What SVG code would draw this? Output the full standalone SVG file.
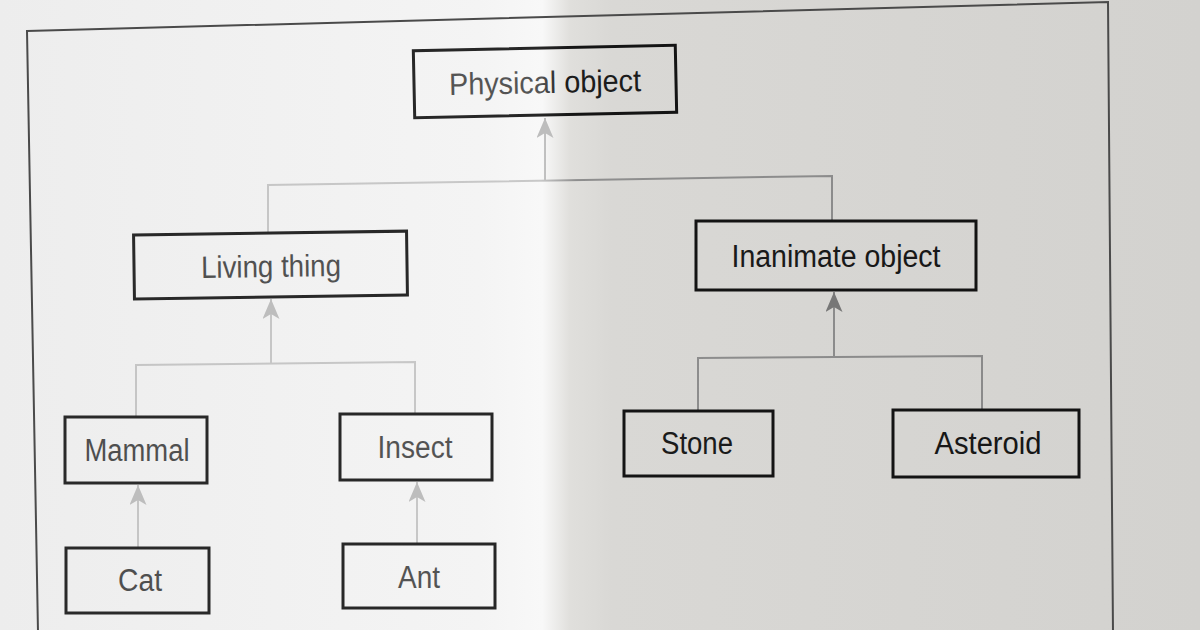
<svg xmlns="http://www.w3.org/2000/svg" width="1200" height="630" viewBox="0 0 1200 630">
  <defs>
    <linearGradient id="bg" gradientUnits="userSpaceOnUse" x1="0" y1="0" x2="1200" y2="0">
      <stop offset="0" stop-color="#ededed"/>
      <stop offset="0.40" stop-color="#f4f4f4"/>
      <stop offset="0.452" stop-color="#f8f8f8"/>
      <stop offset="0.475" stop-color="#e0dfdc"/>
      <stop offset="0.51" stop-color="#d9d8d5"/>
      <stop offset="1" stop-color="#d3d2cf"/>
    </linearGradient>
    <linearGradient id="ink" gradientUnits="userSpaceOnUse" x1="0" y1="0" x2="1200" y2="0">
      <stop offset="0" stop-color="#4c4c4c"/>
      <stop offset="0.45" stop-color="#555555"/>
      <stop offset="0.47" stop-color="#1c1c1c"/>
      <stop offset="1" stop-color="#141414"/>
    </linearGradient>
    <linearGradient id="edge" gradientUnits="userSpaceOnUse" x1="0" y1="0" x2="1200" y2="0">
      <stop offset="0" stop-color="#2a2a2a"/>
      <stop offset="0.45" stop-color="#262626"/>
      <stop offset="0.48" stop-color="#141414"/>
      <stop offset="1" stop-color="#121212"/>
    </linearGradient>
    <linearGradient id="wire" gradientUnits="userSpaceOnUse" x1="0" y1="0" x2="1200" y2="0">
      <stop offset="0" stop-color="#c4c4c4"/>
      <stop offset="0.45" stop-color="#c8c8c8"/>
      <stop offset="0.48" stop-color="#8e8e8e"/>
      <stop offset="1" stop-color="#888888"/>
    </linearGradient>
    <marker id="arrL" markerUnits="userSpaceOnUse" markerWidth="21" markerHeight="17" refX="20" refY="8.5" orient="auto">
      <path d="M0,0 L20,8.5 L0,17 L5,8.5 z" fill="#bdbdbd"/>
    </marker>
    <marker id="arrR" markerUnits="userSpaceOnUse" markerWidth="21" markerHeight="17" refX="20" refY="8.5" orient="auto">
      <path d="M0,0 L20,8.5 L0,17 L5,8.5 z" fill="#777777"/>
    </marker>
  </defs>
  <style>
    .box { fill: none; stroke: url(#edge); stroke-width: 3; }
    .lbl { font-family: "Liberation Sans", Arial, sans-serif; font-size: 31px; text-anchor: middle; fill: url(#ink); }
    .wire { fill: none; stroke: url(#wire); stroke-width: 2; }
  </style>

  <rect x="0" y="0" width="1200" height="630" fill="url(#bg)"/>
  <path d="M27,31 L1108,2 L1113,632 L38,632 Z" fill="none" stroke="#4a4a4a" stroke-width="2"/>

  <g id="connectors">
    <path class="wire" d="M268,233 L268,185 L832,176 L832,221"/>
    <path class="wire" d="M545,181 L545,118" marker-end="url(#arrL)"/>
    <path class="wire" d="M136,417 L136,365 L415,362 L415,414"/>
    <path class="wire" d="M271,364 L271,299" marker-end="url(#arrL)"/>
    <path class="wire" d="M698,411 L698,358 L982,356 L982,410"/>
    <path class="wire" d="M834,357 L834,292" marker-end="url(#arrR)"/>
    <path class="wire" d="M138,548 L138,485" marker-end="url(#arrL)"/>
    <path class="wire" d="M417,544 L417,482" marker-end="url(#arrL)"/>
  </g>

  <g id="physical-object" transform="rotate(-1.2 545 82)">
    <rect class="box" x="414" y="48" width="262" height="67"/>
    <text class="lbl" x="545" y="93" textLength="192" lengthAdjust="spacingAndGlyphs">Physical object</text>
  </g>
  <g id="living-thing" transform="rotate(-0.8 271 265)">
    <rect class="box" x="134" y="233" width="273" height="64"/>
    <text class="lbl" x="271" y="277" textLength="140" lengthAdjust="spacingAndGlyphs">Living thing</text>
  </g>
  <g id="inanimate-object">
    <rect class="box" x="696" y="221" width="280" height="69"/>
    <text class="lbl" x="836" y="267" textLength="209" lengthAdjust="spacingAndGlyphs">Inanimate object</text>
  </g>
  <g id="mammal">
    <rect class="box" x="65" y="417" width="142" height="66"/>
    <text class="lbl" x="137" y="461" textLength="105" lengthAdjust="spacingAndGlyphs">Mammal</text>
  </g>
  <g id="insect">
    <rect class="box" x="340" y="414" width="152" height="66"/>
    <text class="lbl" x="415" y="458" textLength="75" lengthAdjust="spacingAndGlyphs">Insect</text>
  </g>
  <g id="stone">
    <rect class="box" x="624" y="411" width="149" height="65"/>
    <text class="lbl" x="697" y="454" textLength="72" lengthAdjust="spacingAndGlyphs">Stone</text>
  </g>
  <g id="asteroid">
    <rect class="box" x="893" y="410" width="186" height="67"/>
    <text class="lbl" x="988" y="454" textLength="107" lengthAdjust="spacingAndGlyphs">Asteroid</text>
  </g>
  <g id="cat">
    <rect class="box" x="66" y="548" width="143" height="65"/>
    <text class="lbl" x="140" y="591" textLength="44" lengthAdjust="spacingAndGlyphs">Cat</text>
  </g>
  <g id="ant">
    <rect class="box" x="343" y="544" width="152" height="64"/>
    <text class="lbl" x="419" y="588" textLength="42" lengthAdjust="spacingAndGlyphs">Ant</text>
  </g>
</svg>
